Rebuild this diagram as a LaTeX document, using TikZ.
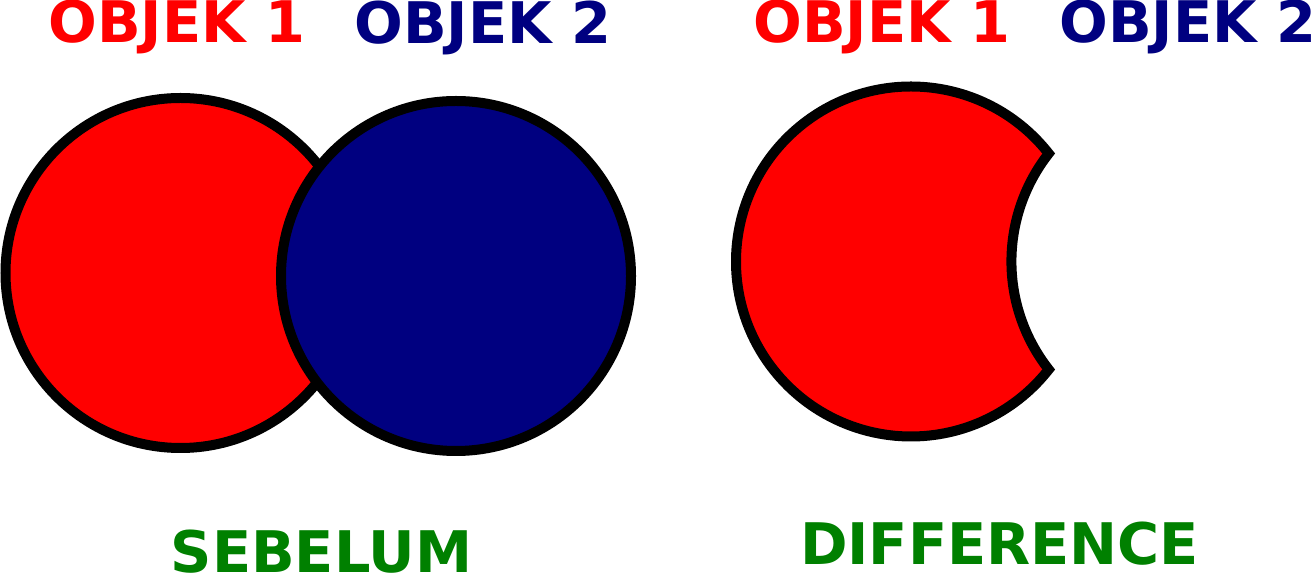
\documentclass[tikz,border=0pt]{standalone}
\usepackage{fontspec}
\setmainfont{DejaVu Sans}
\definecolor{objred}{HTML}{FF0000}
\definecolor{objblue}{HTML}{000080}
\definecolor{titlegreen}{HTML}{008000}

\tikzstyle{circred} = [circle, inner sep=0pt, minimum size=262.5pt, draw=black, line width=7.5pt, fill=objred]
\tikzstyle{circblue} = [circle, inner sep=0pt, minimum size=262.5pt, draw=black, line width=7.5pt, fill=objblue]
\tikzstyle{diffshape} = [draw=black, line width=7.5pt, fill=objred]
\tikzstyle{objtext} = [inner sep=0pt, anchor=base, font=\fontsize{43pt}{50pt}\selectfont\bfseries]
\tikzstyle{titletext} = [inner sep=0pt, anchor=base, text=titlegreen, font=\fontsize{43pt}{50pt}\selectfont\bfseries]

\begin{document}
\begin{tikzpicture}[x=0.75pt, y=0.75pt]
			\useasboundingbox (0,0) rectangle (1312,574);
			% left: both objects
			\node (redA) [circred] at (180.5,301) {};
			\node (blueA) [circblue] at (456,298) {};
			\node (objAone) [objtext, text=objred] at (177,531) {OBJEK 1};
			\node (objAtwo) [objtext, text=objblue] at (483,530) {OBJEK 2};
			\node (sebelum) [titletext] at (321.5,1.5) {SEBELUM};
			
			% right: difference
			\coordinate (redB) at (911,312.5);
			\coordinate (cutB) at (1186.5,312.5);
			\draw [diffshape] (redB) ++(38.1:175) arc[start angle=38.1, end angle=321.9, radius=175]
				arc[start angle=218.1, end angle=141.9, radius=175] -- cycle;
			\node (objBone) [objtext, text=objred] at (882,531) {OBJEK 1};
			\node (objBtwo) [objtext, text=objblue] at (1188,531) {OBJEK 2};
			\node (difference) [titletext] at (999.5,9) {DIFFERENCE};
			
		\end{tikzpicture}
\end{document}
